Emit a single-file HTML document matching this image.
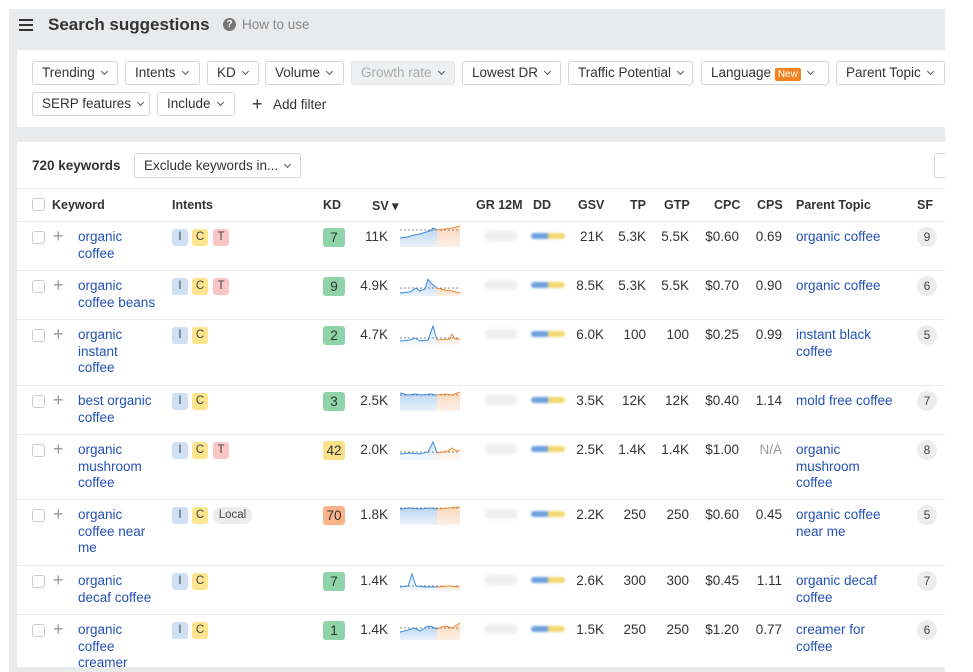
<!DOCTYPE html>
<html><head><meta charset="utf-8"><style>
*{box-sizing:border-box;margin:0;padding:0}
body{width:973px;height:672px;background:#fff;font-family:"Liberation Sans",sans-serif;font-size:13.5px;color:#333;position:relative;overflow:hidden}
.abs{position:absolute}
#bg{left:9px;top:9px;width:936px;height:663px;background:#e9eaec}
.card{background:#fff;left:17px;width:928px}
.btn{position:absolute;height:24px;border:1px solid #d3d5d8;border-radius:3px;background:#fff;font-size:13.5px;line-height:22px;padding:0 9px;color:#333;white-space:nowrap}
.btn:after{content:"";display:inline-block;width:4px;height:4px;border-right:1.3px solid #555;border-bottom:1.3px solid #555;transform:rotate(45deg);margin-left:7px;vertical-align:3px}
.hd{position:absolute;top:198px;font-weight:bold;font-size:12.5px;color:#333}
.sep{position:absolute;left:17px;width:928px;height:1px;background:#ececee}
.row{position:absolute;left:0;width:973px}
.row>*{position:absolute}
.cb{left:32px;top:10px;width:13px;height:13px;border:1px solid #c9cbcf;border-radius:3px;background:#fff}
.pl{left:53px;top:5px;font-size:18px;color:#999;line-height:20px}
.kw{left:78px;top:8px;width:82px;line-height:16.5px;color:#2550b5}
.it{top:8px;height:17px;width:16px;border-radius:3px;font-size:11.5px;line-height:17px;text-align:center;color:#444}
.iI{background:#cfe0f5}.iC{background:#fde58e}.iT{background:#f8c7c5}
.kd{left:323px;top:7px;width:22px;height:19px;border-radius:3px;text-align:center;line-height:19px;font-size:13.5px;color:#333}
.num{top:8px;line-height:16.5px;text-align:right}
.sv{left:340px;width:48px}
.sp{left:400px;top:4px}
.gr{left:485px;top:10px;width:32px;height:10px;background:#eee;border-radius:4px;filter:blur(1.5px)}
.dd{left:531px;top:12px;width:34px;height:6px;border-radius:3px;background:linear-gradient(90deg,#6da0e0 0 50%,#f2d870 50%);filter:blur(1px)}
.gsv{left:560px;width:44px}.tp{left:610px;width:36px}.gtp{left:650px;width:39px}.cpc{left:695px;width:44px}.cps{left:745px;width:37px}
.pt{left:796px;top:8px;width:104px;line-height:16.5px;color:#2550b5}
.sf{left:917px;top:6px;width:20px;height:20px;border-radius:10px;background:#ececee;text-align:center;line-height:20px;font-size:12px;color:#444}
</style></head><body>
<div id="bg" class="abs"></div>
<div class="abs" style="left:19px;top:19px;width:14px;height:2px;background:#333;box-shadow:0 5px 0 #333,0 10px 0 #333"></div>
<div class="abs" style="left:48px;top:15px;font-size:17px;font-weight:bold;color:#333">Search suggestions</div>
<div class="abs" style="left:223px;top:18px;width:13px;height:13px;border-radius:7px;background:#777;color:#fff;font-size:10px;text-align:center;line-height:13px;font-weight:bold">?</div>
<div class="abs" style="left:242px;top:17px;font-size:13.5px;color:#888">How to use</div>
<div class="abs card" style="top:50px;height:77px"></div>
<div class="btn" style="left:32px;top:61px;width:86px">Trending</div>
<div class="btn" style="left:125px;top:61px;width:75px">Intents</div>
<div class="btn" style="left:207px;top:61px;width:52px">KD</div>
<div class="btn" style="left:265px;top:61px;width:79px">Volume</div>
<div class="btn" style="left:351px;top:61px;width:104px;background:#eeeff0;color:#aaa;border-color:#e3e4e6">Growth rate</div>
<div class="btn" style="left:462px;top:61px;width:99px">Lowest DR</div>
<div class="btn" style="left:568px;top:61px;width:125px">Traffic Potential</div>
<div class="btn" style="left:701px;top:61px;width:128px">Language <span style="background:#f58220;color:#fff;font-size:10px;padding:1px 3px;border-radius:2px">New</span></div>
<div class="btn" style="left:836px;top:61px;width:109px">Parent Topic</div>
<div class="btn" style="left:32px;top:92px;width:118px">SERP features</div>
<div class="btn" style="left:157px;top:92px;width:78px">Include</div>
<div class="abs" style="left:252px;top:96px;font-size:18px;line-height:16px;color:#333">+</div>
<div class="abs" style="left:273px;top:97px;font-size:13.5px">Add filter</div>
<div class="abs card" style="top:142px;height:525px"></div>
<div class="abs" style="left:32px;top:158px;font-weight:bold;font-size:13.5px">720 keywords</div>
<div class="btn" style="left:134px;top:153px;height:25px;line-height:23px;width:167px">Exclude keywords in...</div>
<div class="abs" style="left:934px;top:153px;width:12px;height:25px;border:1px solid #d3d5d8;border-right:none;border-radius:3px 0 0 3px"></div>
<div class="sep" style="top:188px"></div>
<div class="abs" style="left:32px;top:198px;width:13px;height:13px;border:1px solid #c9cbcf;border-radius:3px"></div>
<div class="hd" style="left:52px">Keyword</div>
<div class="hd" style="left:172px">Intents</div>
<div class="hd" style="left:323px">KD</div>
<div class="hd" style="left:372px">SV ▾</div>
<div class="hd" style="left:476px">GR 12M</div>
<div class="hd" style="left:533px">DD</div>
<div class="hd" style="left:578px">GSV</div>
<div class="hd" style="left:630px">TP</div>
<div class="hd" style="left:664px">GTP</div>
<div class="hd" style="left:714px">CPC</div>
<div class="hd" style="left:757px">CPS</div>
<div class="hd" style="left:796px">Parent Topic</div>
<div class="hd" style="left:917px">SF</div>

<svg width="0" height="0" style="position:absolute"><defs>
<linearGradient id="gb" x1="0" y1="0" x2="0" y2="1"><stop offset="0" stop-color="#bcd5f2"/><stop offset="1" stop-color="#eaf2fb"/></linearGradient>
<linearGradient id="go" x1="0" y1="0" x2="0" y2="1"><stop offset="0" stop-color="#fbd8bd"/><stop offset="1" stop-color="#fdf0e6"/></linearGradient>
</defs></svg>

<div class="sep" style="top:221px"></div>
<div class="row" style="top:221px">
<div class="cb"></div><div class="pl">+</div><div class="kw">organic coffee</div>
<div class="it iI" style="left:172px">I</div><div class="it iC" style="left:192px">C</div><div class="it iT" style="left:213px">T</div>
<div class="kd" style="background:#8fd4a8">7</div><div class="num sv">11K</div>
<svg class="sp" width="60" height="22"><path d="M0 13 L8 12 L14 10 L20 9 L26 7 L30 6 L33 3 L37 5 L37 22 L0 22Z" fill="url(#gb)"/><path d="M37 5 L45 4 L52 3 L60 1 L60 22 L37 22Z" fill="url(#go)"/><line x1="0" y1="5" x2="60" y2="5" stroke="#666" stroke-dasharray="2,2" stroke-width=".7"/><polyline points="0,13 8,12 14,10 20,9 26,7 30,6 33,3 37,5" fill="none" stroke="#3d8de0" stroke-width="1"/><polyline points="37,5 45,4 52,3 60,1" fill="none" stroke="#f28a2a" stroke-width="1"/></svg>
<div class="gr"></div><div class="dd"></div>
<div class="num gsv">21K</div><div class="num tp">5.3K</div><div class="num gtp">5.5K</div><div class="num cpc">$0.60</div><div class="num cps">0.69</div>
<div class="pt">organic coffee</div><div class="sf">9</div></div>

<div class="sep" style="top:270px"></div>
<div class="row" style="top:270px">
<div class="cb"></div><div class="pl">+</div><div class="kw">organic coffee beans</div>
<div class="it iI" style="left:172px">I</div><div class="it iC" style="left:192px">C</div><div class="it iT" style="left:213px">T</div>
<div class="kd" style="background:#8fd4a8">9</div><div class="num sv">4.9K</div>
<svg class="sp" width="60" height="22"><path d="M0 19 L10 18 L16 14 L20 17 L25 15 L28 5 L32 10 L37 14 L37 22 L0 22Z" fill="url(#gb)"/><path d="M37 14 L45 16 L52 17 L60 19 L60 22 L37 22Z" fill="url(#go)"/><line x1="0" y1="14" x2="60" y2="14" stroke="#666" stroke-dasharray="2,2" stroke-width=".7"/><polyline points="0,19 10,18 16,14 20,17 25,15 28,5 32,10 37,14" fill="none" stroke="#3d8de0"/><polyline points="37,14 45,16 52,17 60,19" fill="none" stroke="#f28a2a"/></svg>
<div class="gr"></div><div class="dd"></div>
<div class="num gsv">8.5K</div><div class="num tp">5.3K</div><div class="num gtp">5.5K</div><div class="num cpc">$0.70</div><div class="num cps">0.90</div>
<div class="pt">organic coffee</div><div class="sf">6</div></div>

<div class="sep" style="top:319px"></div>
<div class="row" style="top:319px">
<div class="cb"></div><div class="pl">+</div><div class="kw">organic<br>instant<br>coffee</div>
<div class="it iI" style="left:172px">I</div><div class="it iC" style="left:192px">C</div>
<div class="kd" style="background:#8fd4a8">2</div><div class="num sv">4.7K</div>
<svg class="sp" width="60" height="22"><path d="M0 18 L10 17 L15 15 L20 18 L28 17 L33 3 L37 17 L37 22 L0 22Z" fill="url(#gb)" opacity=".6"/><path d="M37 17 L50 16 L52 11 L55 16 L60 16 L60 22 L37 22Z" fill="url(#go)" opacity=".6"/><line x1="0" y1="15" x2="60" y2="15" stroke="#666" stroke-dasharray="2,2" stroke-width=".7"/><polyline points="0,18 10,17 15,15 20,18 28,17 33,3 37,17" fill="none" stroke="#3d8de0"/><polyline points="37,17 50,16 52,11 55,16 60,16" fill="none" stroke="#f28a2a"/></svg>
<div class="gr"></div><div class="dd"></div>
<div class="num gsv">6.0K</div><div class="num tp">100</div><div class="num gtp">100</div><div class="num cpc">$0.25</div><div class="num cps">0.99</div>
<div class="pt">instant black<br>coffee</div><div class="sf">5</div></div>

<div class="sep" style="top:385px"></div>
<div class="row" style="top:385px">
<div class="cb"></div><div class="pl">+</div><div class="kw">best organic<br>coffee</div>
<div class="it iI" style="left:172px">I</div><div class="it iC" style="left:192px">C</div>
<div class="kd" style="background:#8fd4a8">3</div><div class="num sv">2.5K</div>
<svg class="sp" width="60" height="22"><path d="M0 4 L8 6 L15 5 L22 6 L30 5 L37 6 L37 22 L0 22Z" fill="url(#gb)"/><path d="M37 6 L45 5 L52 6 L60 3 L60 22 L37 22Z" fill="url(#go)"/><line x1="0" y1="6" x2="60" y2="6" stroke="#666" stroke-dasharray="2,2" stroke-width=".7"/><polyline points="0,4 8,6 15,5 22,6 30,5 37,6" fill="none" stroke="#3d8de0"/><polyline points="37,6 45,5 52,6 60,3" fill="none" stroke="#f28a2a"/></svg>
<div class="gr"></div><div class="dd"></div>
<div class="num gsv">3.5K</div><div class="num tp">12K</div><div class="num gtp">12K</div><div class="num cpc">$0.40</div><div class="num cps">1.14</div>
<div class="pt" style="width:130px">mold free coffee</div><div class="sf">7</div></div>

<div class="sep" style="top:434px"></div>
<div class="row" style="top:434px">
<div class="cb"></div><div class="pl">+</div><div class="kw">organic<br>mushroom<br>coffee</div>
<div class="it iI" style="left:172px">I</div><div class="it iC" style="left:192px">C</div><div class="it iT" style="left:213px">T</div>
<div class="kd" style="background:#fbe08a">42</div><div class="num sv">2.0K</div>
<svg class="sp" width="60" height="22"><path d="M0 16 L10 15 L20 16 L28 14 L33 4 L37 15 L37 22 L0 22Z" fill="url(#gb)" opacity=".6"/><path d="M37 15 L48 13 L52 10 L56 13 L60 12 L60 22 L37 22Z" fill="url(#go)" opacity=".6"/><line x1="0" y1="14" x2="60" y2="14" stroke="#666" stroke-dasharray="2,2" stroke-width=".7"/><polyline points="0,16 10,15 20,16 28,14 33,4 37,15" fill="none" stroke="#3d8de0"/><polyline points="37,15 48,13 52,10 56,13 60,12" fill="none" stroke="#f28a2a"/></svg>
<div class="gr"></div><div class="dd"></div>
<div class="num gsv">2.5K</div><div class="num tp">1.4K</div><div class="num gtp">1.4K</div><div class="num cpc">$1.00</div><div class="num cps" style="color:#999">N/A</div>
<div class="pt">organic<br>mushroom<br>coffee</div><div class="sf">8</div></div>

<div class="sep" style="top:499px"></div>
<div class="row" style="top:499px">
<div class="cb"></div><div class="pl">+</div><div class="kw">organic<br>coffee near<br>me</div>
<div class="it iI" style="left:172px">I</div><div class="it iC" style="left:192px">C</div>
<div class="it" style="left:213px;width:39px;border-radius:8px;background:#ececee;font-size:11.5px">Local</div>
<div class="kd" style="background:#f9b48c">70</div><div class="num sv">1.8K</div>
<svg class="sp" width="60" height="22"><path d="M0 6 L10 5 L20 6 L30 5 L37 6 L37 22 L0 22Z" fill="url(#gb)"/><path d="M37 6 L48 5 L60 4 L60 22 L37 22Z" fill="url(#go)"/><line x1="0" y1="5" x2="60" y2="5" stroke="#666" stroke-dasharray="2,2" stroke-width=".7"/><polyline points="0,6 10,5 20,6 30,5 37,6" fill="none" stroke="#3d8de0"/><polyline points="37,6 48,5 60,4" fill="none" stroke="#f28a2a"/></svg>
<div class="gr"></div><div class="dd"></div>
<div class="num gsv">2.2K</div><div class="num tp">250</div><div class="num gtp">250</div><div class="num cpc">$0.60</div><div class="num cps">0.45</div>
<div class="pt">organic coffee<br>near me</div><div class="sf">5</div></div>

<div class="sep" style="top:565px"></div>
<div class="row" style="top:565px">
<div class="cb"></div><div class="pl">+</div><div class="kw" style="width:100px">organic<br>decaf coffee</div>
<div class="it iI" style="left:172px">I</div><div class="it iC" style="left:192px">C</div>
<div class="kd" style="background:#8fd4a8">7</div><div class="num sv">1.4K</div>
<svg class="sp" width="60" height="22"><path d="M0 18 L8 17 L12 5 L16 17 L25 18 L37 18 L37 22 L0 22Z" fill="url(#gb)" opacity=".6"/><path d="M37 18 L60 18 L60 22 L37 22Z" fill="url(#go)" opacity=".6"/><line x1="0" y1="17" x2="60" y2="17" stroke="#666" stroke-dasharray="2,2" stroke-width=".7"/><polyline points="0,18 8,17 12,5 16,17 25,18 37,18" fill="none" stroke="#3d8de0"/><polyline points="37,18 48,17 60,18" fill="none" stroke="#f28a2a"/></svg>
<div class="gr"></div><div class="dd"></div>
<div class="num gsv">2.6K</div><div class="num tp">300</div><div class="num gtp">300</div><div class="num cpc">$0.45</div><div class="num cps">1.11</div>
<div class="pt">organic decaf<br>coffee</div><div class="sf">7</div></div>

<div class="sep" style="top:614px"></div>
<div class="row" style="top:614px">
<div class="cb"></div><div class="pl">+</div><div class="kw">organic<br>coffee<br>creamer</div>
<div class="it iI" style="left:172px">I</div><div class="it iC" style="left:192px">C</div>
<div class="kd" style="background:#8fd4a8">1</div><div class="num sv">1.4K</div>
<svg class="sp" width="60" height="22"><path d="M0 14 L8 12 L14 10 L20 13 L28 8 L33 9 L37 11 L37 22 L0 22Z" fill="url(#gb)"/><path d="M37 11 L45 8 L52 10 L60 5 L60 22 L37 22Z" fill="url(#go)"/><line x1="0" y1="10" x2="60" y2="10" stroke="#666" stroke-dasharray="2,2" stroke-width=".7"/><polyline points="0,14 8,12 14,10 20,13 28,8 33,9 37,11" fill="none" stroke="#3d8de0"/><polyline points="37,11 45,8 52,10 60,5" fill="none" stroke="#f28a2a"/></svg>
<div class="gr"></div><div class="dd"></div>
<div class="num gsv">1.5K</div><div class="num tp">250</div><div class="num gtp">250</div><div class="num cpc">$1.20</div><div class="num cps">0.77</div>
<div class="pt">creamer for<br>coffee</div><div class="sf">6</div></div>
<div class="abs" style="left:9px;top:667px;width:936px;height:5px;background:#e9eaec"></div>
</body></html>
